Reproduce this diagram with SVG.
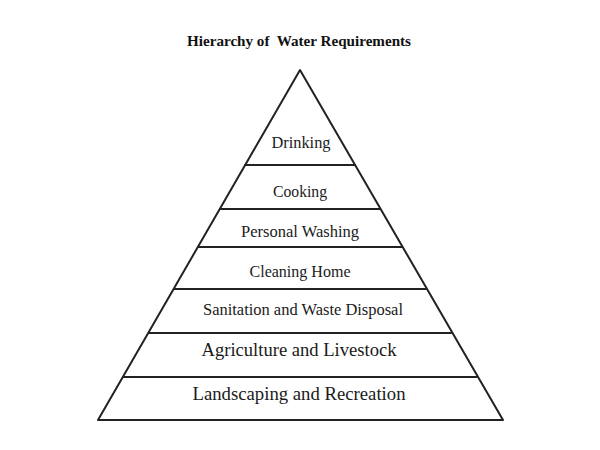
<svg xmlns="http://www.w3.org/2000/svg" width="600" height="450" viewBox="0 0 600 450">
<style>
.edge{stroke:#222;stroke-width:2;fill:none;stroke-linecap:round;stroke-linejoin:round}
.lbl{font-family:"Liberation Serif","DejaVu Serif",serif;fill:#1a1a1a;text-anchor:middle}
.title{font-family:"Liberation Serif","DejaVu Serif",serif;font-weight:bold;fill:#111;text-anchor:middle;white-space:pre}
</style>
<rect width="600" height="450" fill="#ffffff"/>
<text class="title" x="299" y="46" font-size="14" textLength="224" lengthAdjust="spacingAndGlyphs" xml:space="preserve">Hierarchy of  Water Requirements</text>
<g id="connectors">
<polygon class="edge" points="300,70 503,420 98,420"/>
<line class="edge" x1="245" y1="165" x2="355" y2="165"/>
<line class="edge" x1="220" y1="209" x2="380" y2="209"/>
<line class="edge" x1="198" y1="247" x2="402" y2="247"/>
<line class="edge" x1="174" y1="289" x2="426" y2="289"/>
<line class="edge" x1="149" y1="333" x2="451" y2="333"/>
<line class="edge" x1="123" y1="377" x2="477" y2="377"/>
</g>
<g id="drinking"><text class="lbl" x="301" y="148" font-size="16" textLength="59" lengthAdjust="spacingAndGlyphs">Drinking</text></g>
<g id="cooking"><text class="lbl" x="300" y="197" font-size="16" textLength="54" lengthAdjust="spacingAndGlyphs">Cooking</text></g>
<g id="personal-washing"><text class="lbl" x="300" y="237" font-size="16" textLength="118" lengthAdjust="spacingAndGlyphs">Personal Washing</text></g>
<g id="cleaning-home"><text class="lbl" x="300" y="277" font-size="16" textLength="101" lengthAdjust="spacingAndGlyphs">Cleaning Home</text></g>
<g id="sanitation"><text class="lbl" x="303" y="315" font-size="16" textLength="200" lengthAdjust="spacingAndGlyphs">Sanitation and Waste Disposal</text></g>
<g id="agriculture"><text class="lbl" x="299" y="356" font-size="18" textLength="195" lengthAdjust="spacingAndGlyphs">Agriculture and Livestock</text></g>
<g id="landscaping"><text class="lbl" x="299" y="400" font-size="18" textLength="213" lengthAdjust="spacingAndGlyphs">Landscaping and Recreation</text></g>
</svg>
